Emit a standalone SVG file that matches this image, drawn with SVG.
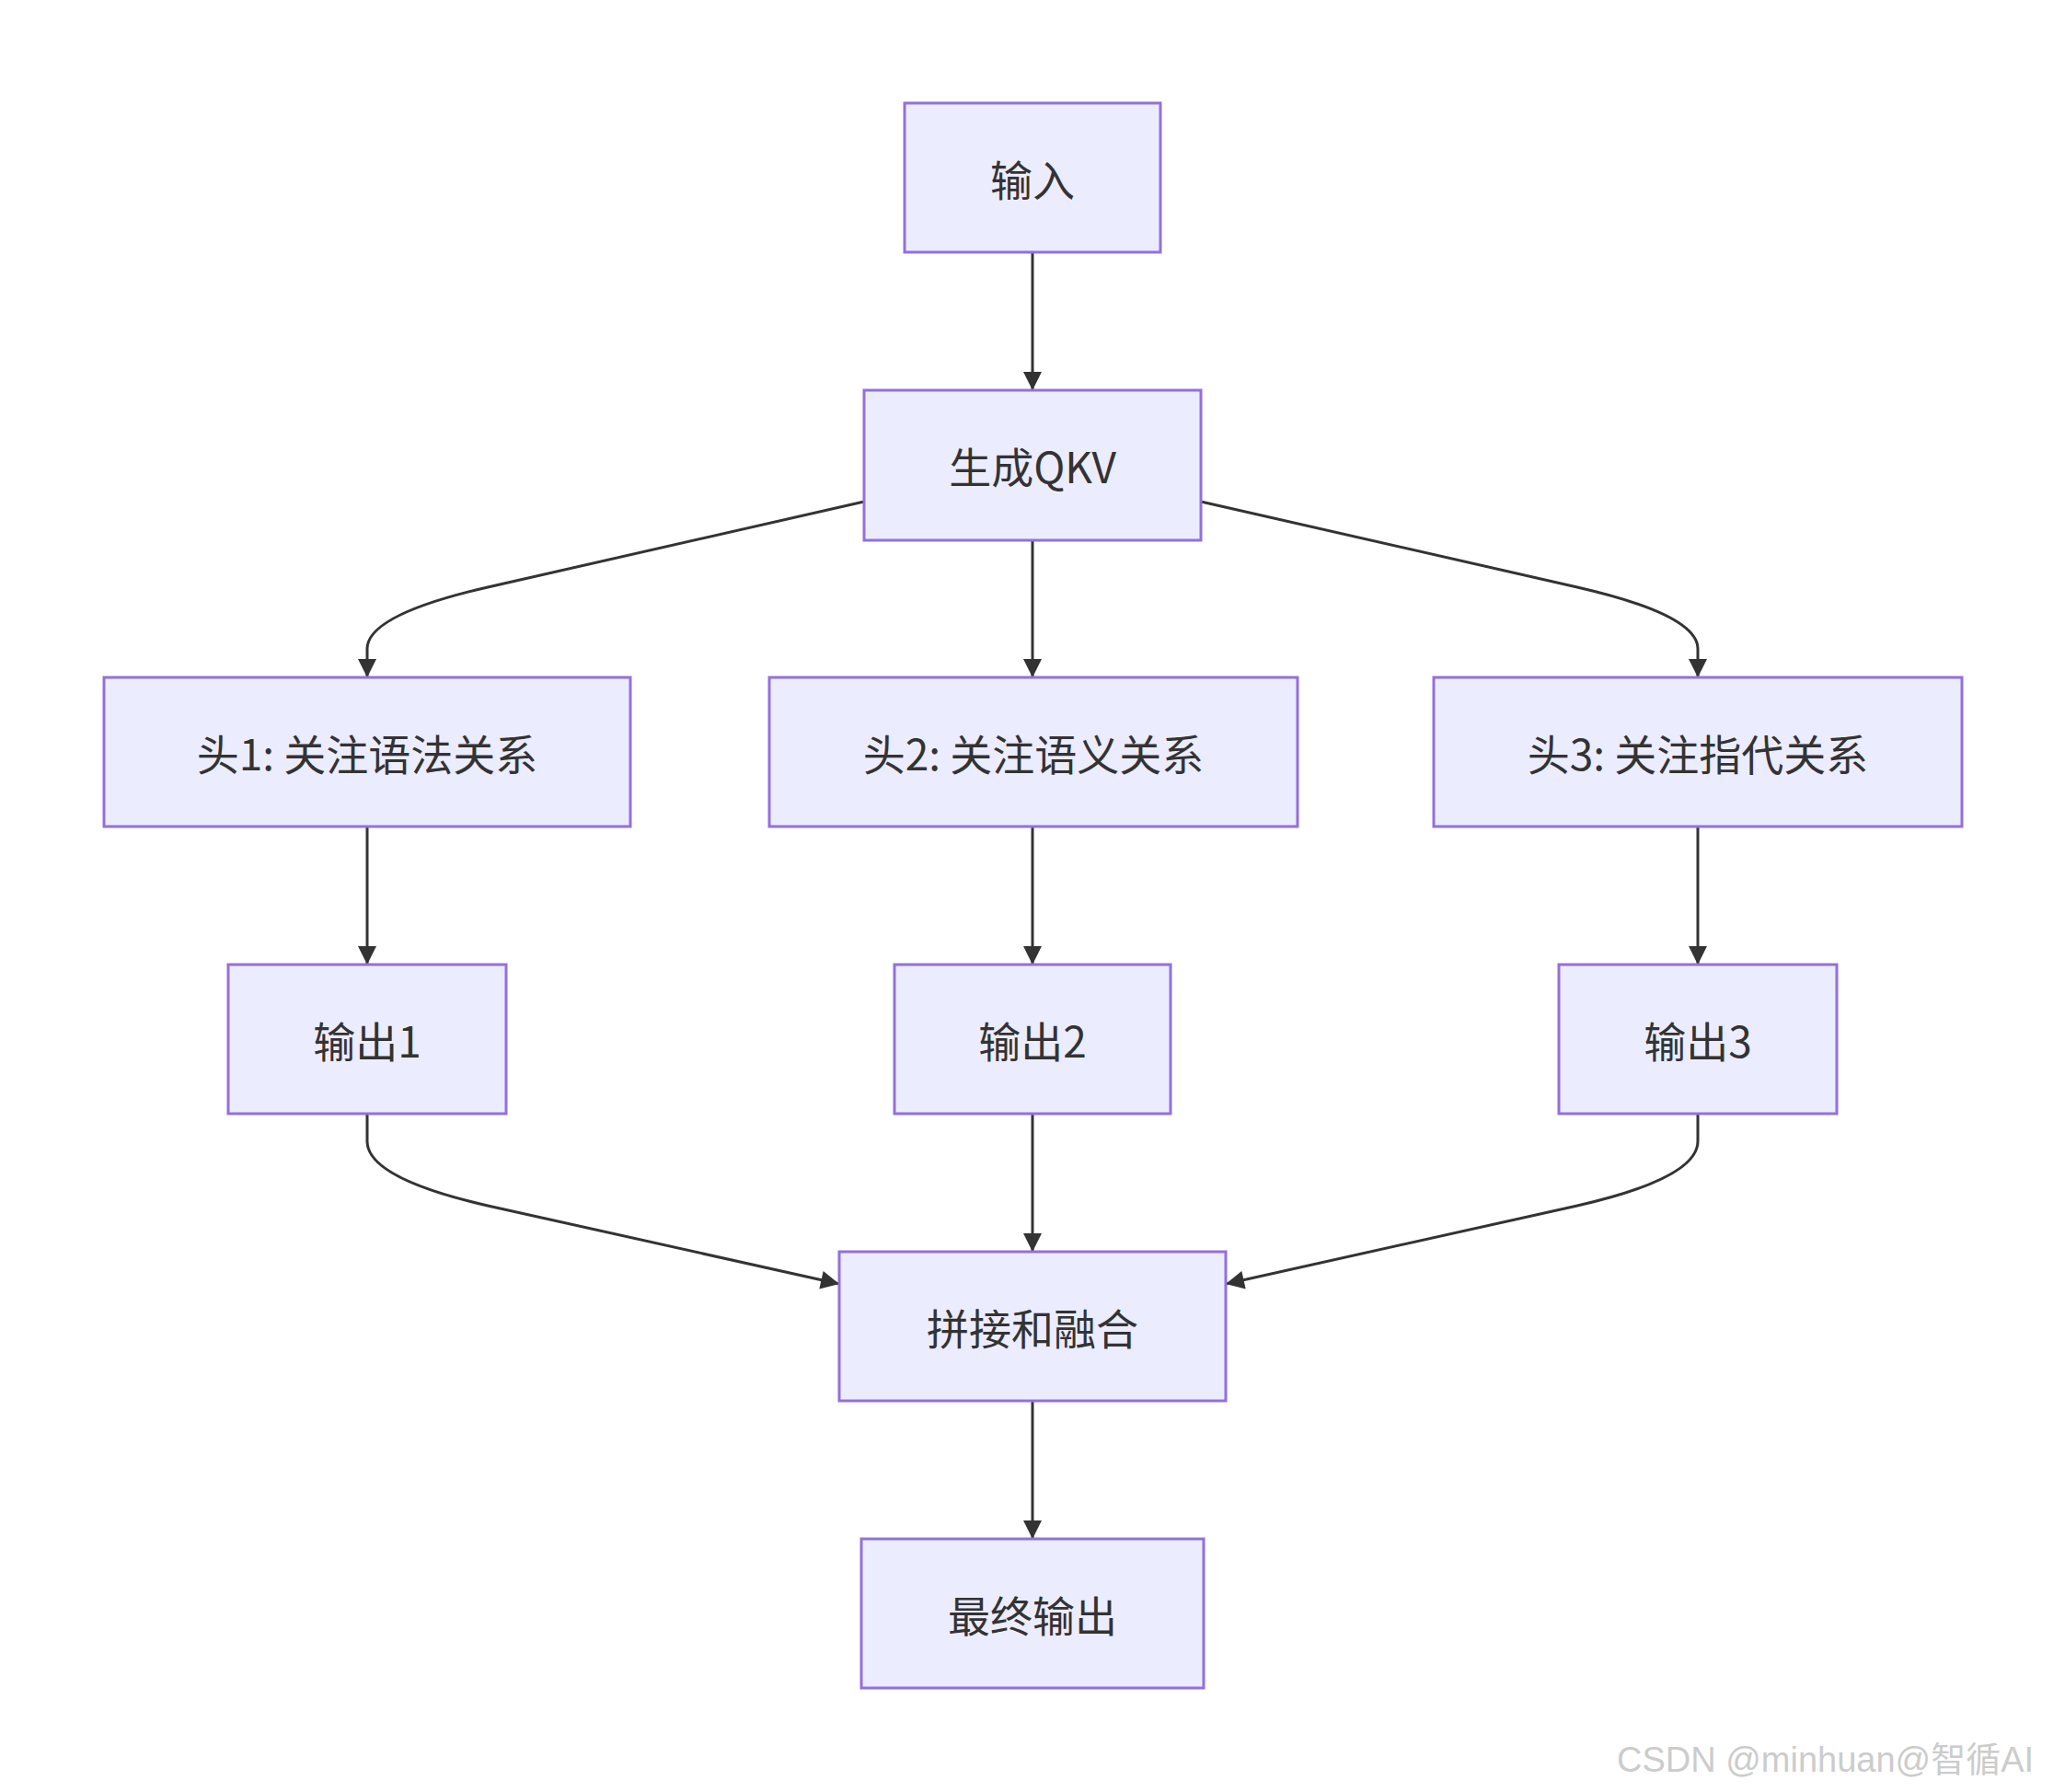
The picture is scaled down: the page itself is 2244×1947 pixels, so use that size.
<svg xmlns="http://www.w3.org/2000/svg" width="2244" height="1947" viewBox="0 0 2244 1947">
<style>
.n rect{fill:#ECECFF;stroke:#9370DB;stroke-width:3}
.n text{font-family:"Noto Sans CJK SC","Noto Sans",sans-serif;font-size:46px;fill:#333;text-anchor:middle;dominant-baseline:central}
.e path{fill:none;stroke:#333;stroke-width:3;marker-end:url(#a)}
</style>
<defs><marker id="a" viewBox="0 0 10 10" refX="10" refY="5" markerWidth="8" markerHeight="8" markerUnits="userSpaceOnUse" orient="auto" style="overflow:visible"><path d="M0,0L10,5L0,10z" fill="#333" transform="scale(2.5) translate(-6,-3)"/></marker></defs>
<rect width="2244" height="1947" fill="#fff"/>
<g class="e">
<path d="M1122,274V424"/>
<path d="M939,545L530,638Q399,668 399,705V736"/>
<path d="M1122,587V736"/>
<path d="M1305,545L1714,638Q1845,668 1845,705V736"/>
<path d="M399,898V1048"/>
<path d="M1122,898V1048"/>
<path d="M1845,898V1048"/>
<path d="M399,1210V1240Q399,1280 530,1310L912,1395"/>
<path d="M1122,1210V1360"/>
<path d="M1845,1210V1240Q1845,1280 1714,1310L1332,1395"/>
<path d="M1122,1522V1672"/>
</g>
<g id="n1" class="n"><rect x="983" y="112" width="278" height="162"/><text x="1122" y="193">输入</text></g>
<g id="n2" class="n"><rect x="939" y="424" width="366" height="163"/><text x="1122" y="505">生成QKV</text></g>
<g id="n3" class="n"><rect x="113" y="736" width="572" height="162"/><text x="399" y="817">头1: 关注语法关系</text></g>
<g id="n4" class="n"><rect x="836" y="736" width="574" height="162"/><text x="1123" y="817">头2: 关注语义关系</text></g>
<g id="n5" class="n"><rect x="1558" y="736" width="574" height="162"/><text x="1845" y="817">头3: 关注指代关系</text></g>
<g id="n6" class="n"><rect x="248" y="1048" width="302" height="162"/><text x="399" y="1129">输出1</text></g>
<g id="n7" class="n"><rect x="972" y="1048" width="300" height="162"/><text x="1122" y="1129">输出2</text></g>
<g id="n8" class="n"><rect x="1694" y="1048" width="302" height="162"/><text x="1845" y="1129">输出3</text></g>
<g id="n9" class="n"><rect x="912" y="1360" width="420" height="162"/><text x="1122" y="1441">拼接和融合</text></g>
<g id="n10" class="n"><rect x="936" y="1672" width="372" height="162"/><text x="1122" y="1753">最终输出</text></g>
<text x="1757" y="1925" font-family="'Liberation Sans','Noto Sans CJK SC',sans-serif" font-size="38" fill="#ccc">CSDN @minhuan@智循AI</text>
</svg>
